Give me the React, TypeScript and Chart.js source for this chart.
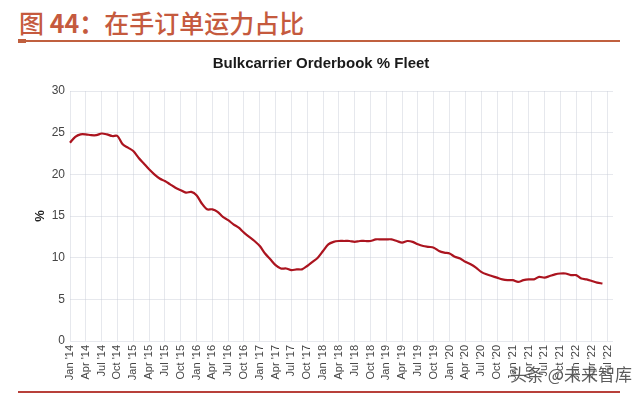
import React, { useEffect, useRef } from "react";
import { Chart, registerables } from "chart.js";

Chart.register(...registerables);

const years: string[] = ["14", "15", "16", "17", "18", "19", "20", "21", "22"];
const monthNames: string[] = ["Jan", "Feb", "Mar", "Apr", "May", "Jun", "Jul", "Aug", "Sep", "Oct", "Nov", "Dec"];
const lastYearMonths = 8; // categories run Jan '14 .. Aug '22

const values2014: number[] = [23.8, 24.5, 24.8, 24.8, 24.7, 24.7, 24.9, 24.8, 24.6, 24.6, 23.6, 23.2];
const values2015: number[] = [22.8, 22.0, 21.3, 20.6, 20.0, 19.5, 19.2, 18.8, 18.4, 18.1, 17.8, 17.9];
const values2016: number[] = [17.5, 16.5, 15.8, 15.8, 15.5, 14.9, 14.5, 14.0, 13.6, 13.0, 12.5, 12.0];
const values2017: number[] = [11.4, 10.5, 9.8, 9.1, 8.7, 8.7, 8.5, 8.6, 8.6, 9.0, 9.5, 10.0];
const values2018: number[] = [10.8, 11.6, 11.9, 12.0, 12.0, 12.0, 11.9, 12.0, 12.0, 12.0, 12.2, 12.2];
const values2019: number[] = [12.2, 12.2, 12.0, 11.8, 12.0, 11.9, 11.6, 11.4, 11.3, 11.2, 10.8, 10.6];
const values2020: number[] = [10.5, 10.1, 9.9, 9.5, 9.2, 8.8, 8.3, 8.0, 7.8, 7.6, 7.4, 7.3];
const values2021: number[] = [7.3, 7.1, 7.3, 7.4, 7.4, 7.7, 7.6, 7.8, 8.0, 8.1, 8.1, 7.9];
const values2022: number[] = [7.9, 7.5, 7.4, 7.2, 7.0, 6.9];

const yTicks: number[] = [0, 5, 10, 15, 20, 25, 30];

const headerPrefix = "图 ";
const headerNumber = "44：";
const headerText = "在手订单运力占比";
const chartTitle = "Bulkcarrier Orderbook % Fleet";
const yAxisTitle = "%";
const watermark = "头条 @未来智库";

export default function App() {
  const canvasRef = useRef<HTMLCanvasElement | null>(null);

  useEffect(() => {
    const labels: string[] = [];
    years.forEach((y, yi) => {
      const n = yi === years.length - 1 ? lastYearMonths : 12;
      for (let m = 0; m < n; m++) labels.push(`${monthNames[m]} '${y}`);
    });
    const data: number[] = [
      ...values2014, ...values2015, ...values2016, ...values2017, ...values2018,
      ...values2019, ...values2020, ...values2021, ...values2022,
    ];

    const chart = new Chart(canvasRef.current as HTMLCanvasElement, {
      type: "line",
      data: {
        labels,
        datasets: [
          {
            data,
            borderColor: "#ab141f",
            borderWidth: 2.2,
            pointRadius: 0,
            tension: 0.3,
            fill: false,
          },
        ],
      },
      options: {
        responsive: false,
        animation: false,
        layout: { padding: { top: 55, left: 29, right: 27, bottom: 6 } },
        plugins: {
          legend: { display: false },
          tooltip: { enabled: false },
          title: {
            display: true,
            text: chartTitle,
            color: "#1a1a1a",
            font: { family: "Liberation Sans, Arial", size: 15, weight: "bold" },
            padding: { top: 0, bottom: 18 },
          },
        },
        scales: {
          x: {
            type: "category",
            offset: false,
            afterFit: (s: any) => { s.height = 50; },
            grid: {
              drawTicks: false,
              color: "rgba(200,205,215,0.45)",
            },
            border: { display: false },
            ticks: {
              autoSkip: false,
              maxRotation: 90,
              minRotation: 90,
              padding: 4,
              color: "#444",
              font: { family: "Liberation Sans, Arial", size: 11 },
              callback: (_v: any, i: number) => (i % 3 === 0 && i < labels.length - 1 ? labels[i] : null),
            },
          },
          y: {
            min: 0,
            max: 30,
            afterFit: (s: any) => { s.width = 41; },
            afterBuildTicks: (s: any) => { s.ticks = yTicks.map((v) => ({ value: v })); },
            grid: { drawTicks: false, color: "rgba(200,205,215,0.45)" },
            border: { display: false },
            ticks: {
              padding: 5,
              color: "#444",
              font: { family: "Liberation Sans, Arial", size: 12 },
            },
            title: {
              display: true,
              text: yAxisTitle,
              color: "#222",
              font: { family: "Liberation Sans, Arial", size: 13, weight: "bold" },
              padding: { top: 4, bottom: 0 },
            },
          },
        },
      },
    });
    return () => chart.destroy();
  }, []);

  return (
    <div style={{ position: "fixed", left: 0, top: 0, width: 640, height: 397, background: "#fff", overflow: "hidden" }}>
      <div
        style={{
          position: "absolute", left: 19, top: 6, fontFamily: "'Noto Sans CJK SC', sans-serif",
          fontSize: 25, color: "#c55a3e", lineHeight: "32px", whiteSpace: "nowrap", fontWeight: 500,
        }}
      >
        {headerPrefix}
        <span style={{ fontWeight: 700 }}>{headerNumber}</span>
        {headerText}
      </div>
      <div style={{ position: "absolute", left: 20, top: 40, width: 600, height: 2, background: "#c0603f" }} />
      <div style={{ position: "absolute", left: 18, top: 39, width: 8, height: 4, background: "#c0603f" }} />
      <canvas ref={canvasRef} width={640} height={397} style={{ position: "absolute", left: 0, top: 0 }} />
      <div style={{ position: "absolute", left: 18, top: 391, width: 602, height: 2, background: "#b8403a" }} />
      <div
        style={{
          position: "absolute", left: 510, top: 363, fontFamily: "'Noto Sans CJK SC', sans-serif",
          fontSize: 17, lineHeight: "22px", color: "rgba(50,50,50,0.8)", whiteSpace: "nowrap", textShadow: "0 0 2px #fff",
        }}
      >
        {watermark}
      </div>
    </div>
  );
}
